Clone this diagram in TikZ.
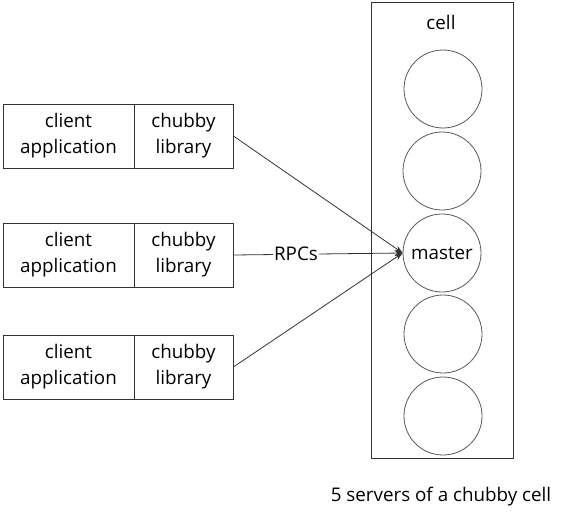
\documentclass[tikz,border=0pt]{standalone}
\usepackage{fontspec}
\setmainfont{Open Sans}
\usetikzlibrary{arrows.meta}
\begin{document}
\begin{tikzpicture}[x=1pt,y=-1pt,line width=0.8pt,
    txt/.style={font=\fontsize{18.8}{26}\selectfont},
    box/.style={draw=black!80,txt,minimum height=64pt,align=center,inner sep=0pt},
    server/.style={draw=black!65,circle,minimum size=78pt,inner sep=0pt,txt},
    rpc/.style={draw=black!80,-{Stealth[length=8pt,width=6pt]}}]
      \useasboundingbox (0,0) rectangle (571,528);

      \node[draw=black!80,minimum width=142pt,minimum height=456pt] (cell) at (442,230) {};
      \node[txt] (celltxt) at (441,22) {cell};
      \node[server] (S1) at (443,89) {};
      \node[server] (S2) at (442,171) {};
      \node[server] (master) at (442,253) {master};
      \node[server] (S4) at (443,334) {};
      \node[server] (S5) at (443,416) {};

      \node[box,minimum width=131pt] (AppA) at (68.5,136) {client\\application};
      \node[box,minimum width=99pt] (LibA) at (183.5,136) {chubby\\library};
      \node[box,minimum width=131pt] (AppB) at (68.5,255) {client\\application};
      \node[box,minimum width=99pt] (LibB) at (183.5,255) {chubby\\library};
      \node[box,minimum width=131pt] (AppC) at (68.5,367) {client\\application};
      \node[box,minimum width=99pt] (LibC) at (183.5,367) {chubby\\library};

      \draw[rpc] (LibA.east) to (master.west);
      \draw[rpc] (LibB.east) to node[txt,fill=white,inner sep=1pt,pos=0.37]{RPCs}(master.west);
      \draw[rpc] (LibC.east) to (master.west);

      \node[txt] (caption) at (441,497) {5 servers of a chubby cell};
    \end{tikzpicture}
\end{document}
